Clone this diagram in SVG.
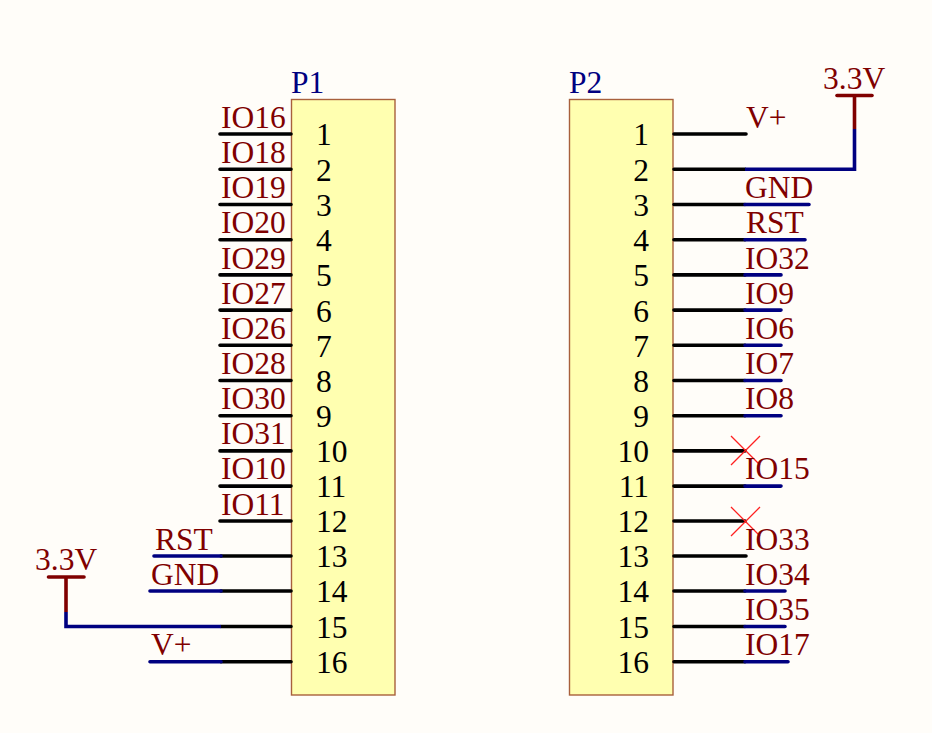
<svg xmlns="http://www.w3.org/2000/svg" width="932" height="733" viewBox="0 0 932 733">
<style>
text{font-family:"Liberation Serif","Times New Roman",serif;font-size:31.5px}
.n{fill:#000}.l{fill:#800000}.d{fill:#000080}
.r{text-anchor:end}
.body{fill:#ffffb0;stroke:#a8603c;stroke-width:1.4}
.k,.b,.m{fill:none;stroke-width:3.6;stroke-linecap:round}
.k{stroke:#000}.b{stroke:#000080}.m{stroke:#800000}
.x{stroke:#ff2020;stroke-width:1.3;fill:none}
</style>
<rect width="932" height="733" fill="#fffdf9"/>
<g id="P1">
<rect class="body" x="291.5" y="99.500" width="103.500" height="595.500"/>
<text class="d" x="291" y="93">P1</text>
<g class="n">
<text x="316" y="145">1</text><text x="316" y="181">2</text><text x="316" y="216">3</text><text x="316" y="251">4</text><text x="316" y="286">5</text><text x="316" y="322">6</text><text x="316" y="357">7</text><text x="316" y="392">8</text><text x="316" y="427">9</text><text x="316" y="462">10</text><text x="316" y="497">11</text><text x="316" y="532">12</text><text x="316" y="567">13</text><text x="316" y="602">14</text><text x="316" y="638">15</text><text x="316" y="673">16</text>
</g>
</g>
<g id="P2">
<rect class="body" x="569.500" y="99.500" width="103.500" height="595.500"/>
<text class="d" x="569" y="93">P2</text>
<g class="n r">
<text x="649" y="145">1</text><text x="649" y="181">2</text><text x="649" y="216">3</text><text x="649" y="251">4</text><text x="649" y="286">5</text><text x="649" y="322">6</text><text x="649" y="357">7</text><text x="649" y="392">8</text><text x="649" y="427">9</text><text x="649" y="462">10</text><text x="649" y="497">11</text><text x="649" y="532">12</text><text x="649" y="567">13</text><text x="649" y="602">14</text><text x="649" y="638">15</text><text x="649" y="673">16</text>
</g>
</g>
<g id="connectors">
<g class="k">
<path d="M220 134H291M220 169.300H291M220 204.500H291M220 239.700H291M220 274.900H291M220 310.100H291M220 345.300H291M220 380.500H291M220 415.700H291M220 450.900H291M220 486.100H291M220 521H291M221 556H291M221 591H291M221 626.500H291M221 661.700H291"/>
<path d="M674 134H746M674 169.300H745M674 204.500H745M674 239.700H745M674 274.900H745M674 310.100H745M674 345.300H745M674 380.500H745M674 415.700H745M674 450.900H745M674 486.100H745M674 521H745M674 556H746M674 591H745M674 626.500H745M674 661.700H745"/>
</g>
<path class="b" d="M154 556H221M150 591H221M150 661.700H221"/>
<path class="b" d="M66 612V626.500H221" style="stroke-linecap:butt"/>
<path class="m" d="M66 577V612" style="stroke-linecap:butt"/>
<path class="m" d="M48.500 577H84"/>
<path class="b" d="M745 169.300H854.500V129" style="stroke-linecap:butt"/>
<path class="m" d="M854.500 129V96" style="stroke-linecap:butt"/>
<path class="m" d="M837 95.500H872"/>
<path class="b" d="M745 204.500H809M745 239.700H805M745 274.900H781M745 310.100H781M745 345.300H781M745 380.500H781M745 415.700H781M745 486.100H781M745 591H785M745 626.500H785M745 661.700H788"/>
<path class="x" d="M731 436L760 465M760 436L731 465M731 507L760 536M760 507L731 536"/>
</g>
<g id="labels" class="l">
<text x="221" y="128">IO16</text><text x="221" y="163">IO18</text><text x="221" y="198">IO19</text><text x="221" y="233">IO20</text><text x="221" y="269">IO29</text><text x="221" y="304">IO27</text><text x="221" y="339">IO26</text><text x="221" y="374">IO28</text><text x="221" y="409">IO30</text><text x="221" y="444">IO31</text><text x="221" y="479">IO10</text><text x="221" y="515">IO11</text>
<text x="155" y="550">RST</text><text x="151" y="585">GND</text><text x="151" y="655">V+</text>
<text x="35" y="570">3.3V</text><text x="823" y="89">3.3V</text>
<text x="746" y="128">V+</text><text x="745" y="198">GND</text><text x="746" y="233">RST</text><text x="745" y="269">IO32</text><text x="745" y="304">IO9</text><text x="745" y="339">IO6</text><text x="745" y="374">IO7</text><text x="745" y="409">IO8</text><text x="745" y="479">IO15</text><text x="745" y="550">IO33</text><text x="745" y="585">IO34</text><text x="745" y="620">IO35</text><text x="745" y="655">IO17</text>
</g>
</svg>
